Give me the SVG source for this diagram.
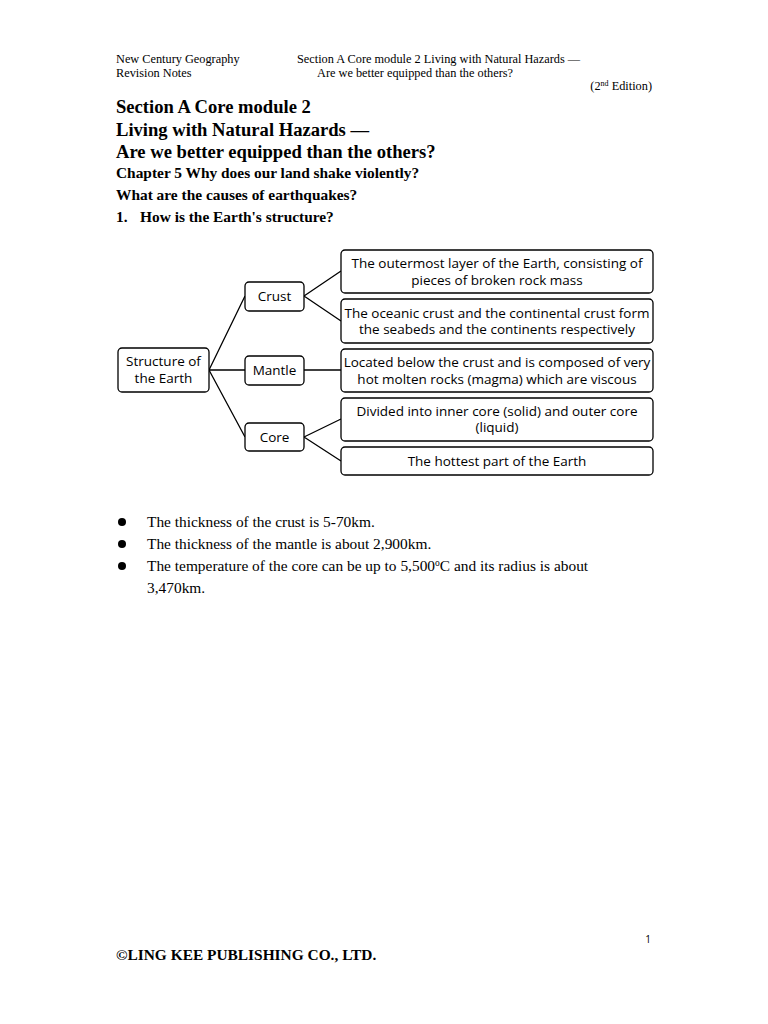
<svg xmlns="http://www.w3.org/2000/svg" width="768" height="1024" viewBox="0 0 768 1024">
<style>
.hd{font-family:"Liberation Serif",serif;font-size:12.3px;fill:#000}
.tt{font-family:"Liberation Serif",serif;font-size:18.6px;font-weight:bold;fill:#000}
.st{font-family:"Liberation Serif",serif;font-size:15.4px;font-weight:bold;fill:#000}
.bt{font-family:"Liberation Serif",serif;font-size:15.4px;fill:#000}
.bx{fill:#fff;stroke:#000;stroke-width:1.3}
.lb{font-family:"Open Sans","Noto Sans",sans-serif;font-size:13.5px;fill:#000;text-anchor:middle}
.cn{fill:none;stroke:#000;stroke-width:1.3}
</style>
<rect width="768" height="1024" fill="#fff"/>
<g id="header">
<text class="hd" x="116" y="63">New Century Geography</text>
<text class="hd" x="116" y="77">Revision Notes</text>
<text class="hd" x="297" y="63">Section A Core module 2 Living with Natural Hazards —</text>
<text class="hd" x="317" y="77">Are we better equipped than the others?</text>
<text class="hd" x="652" y="90" text-anchor="end">(2<tspan font-size="8" dy="-4">nd</tspan><tspan dy="4"> Edition)</tspan></text>
</g>
<g id="titles">
<text class="tt" x="116" y="113">Section A Core module 2</text>
<text class="tt" x="116" y="136">Living with Natural Hazards —</text>
<text class="tt" x="116" y="158">Are we better equipped than the others?</text>
<text class="st" x="116" y="178">Chapter 5 Why does our land shake violently?</text>
<text class="st" x="116" y="200">What are the causes of earthquakes?</text>
<text class="st" x="116" y="222">1.</text>
<text class="st" x="140" y="222">How is the Earth's structure?</text>
</g>
<g id="connectors">
<path class="cn" d="M209 370 L245 296 M209 370 L245 370 M209 370 L245 437"/>
<path class="cn" d="M304 296 L341 271 M304 296 L341 321"/>
<path class="cn" d="M304 370 L341 370"/>
<path class="cn" d="M304 437 L341 419 M304 437 L341 461"/>
</g>
<g id="structure">
<rect class="bx" x="118" y="348" width="91" height="44" rx="4"/>
<text class="lb" x="163.5" y="366">Structure of</text>
<text class="lb" x="163.5" y="383">the Earth</text>
</g>
<g id="crust">
<rect class="bx" x="245" y="282" width="59" height="29" rx="4"/>
<text class="lb" x="274.5" y="301">Crust</text>
</g>
<g id="mantle">
<rect class="bx" x="245" y="356" width="59" height="29" rx="4"/>
<text class="lb" x="274.5" y="375">Mantle</text>
</g>
<g id="core">
<rect class="bx" x="245" y="423" width="59" height="28" rx="4"/>
<text class="lb" x="274.5" y="442">Core</text>
</g>
<g id="crust-desc1">
<rect class="bx" x="341" y="250" width="312" height="43" rx="4"/>
<text class="lb" x="497" y="268">The outermost layer of the Earth, consisting of</text>
<text class="lb" x="497" y="285">pieces of broken rock mass</text>
</g>
<g id="crust-desc2">
<rect class="bx" x="341" y="299" width="312" height="44" rx="4"/>
<text class="lb" x="497" y="318">The oceanic crust and the continental crust form</text>
<text class="lb" x="497" y="334">the seabeds and the continents respectively</text>
</g>
<g id="mantle-desc">
<rect class="bx" x="341" y="349" width="312" height="43" rx="4"/>
<text class="lb" x="497" y="367">Located below the crust and is composed of very</text>
<text class="lb" x="497" y="384">hot molten rocks (magma) which are viscous</text>
</g>
<g id="core-desc1">
<rect class="bx" x="341" y="398" width="312" height="43" rx="4"/>
<text class="lb" x="497" y="416">Divided into inner core (solid) and outer core</text>
<text class="lb" x="497" y="432">(liquid)</text>
</g>
<g id="core-desc2">
<rect class="bx" x="341" y="447" width="312" height="28" rx="4"/>
<text class="lb" x="497" y="466">The hottest part of the Earth</text>
</g>
<g id="bullets">
<circle cx="122" cy="522" r="4"/>
<circle cx="122" cy="544" r="4"/>
<circle cx="122" cy="566" r="4"/>
<text class="bt" x="147" y="527">The thickness of the crust is 5-70km.</text>
<text class="bt" x="147" y="549">The thickness of the mantle is about 2,900km.</text>
<text class="bt" x="147" y="571">The temperature of the core can be up to 5,500<tspan font-size="9.5" dy="-5">o</tspan><tspan dy="5">C and its radius is about</tspan></text>
<text class="bt" x="147" y="593">3,470km.</text>
</g>
<g id="footer">
<text x="651" y="943" font-family="'Open Sans','Noto Sans',sans-serif" font-size="10" text-anchor="end">1</text>
<text x="116" y="960" font-family="'Liberation Serif',serif" font-size="15.4" font-weight="bold">©LING KEE PUBLISHING CO., LTD.</text>
</g>
</svg>
